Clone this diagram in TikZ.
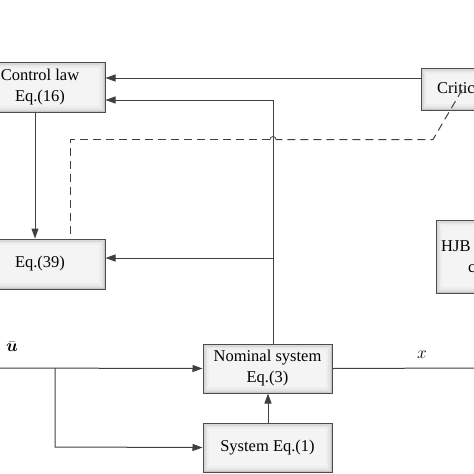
\documentclass[tikz,border=0pt]{standalone}
\usepackage{fontspec}
\usepackage{amsmath}
\setmainfont{Liberation Serif}
\usetikzlibrary{arrows.meta}
\begin{document}
\begin{tikzpicture}[x=1pt,y=-1pt,
  blk/.style={draw=black!70,line width=1pt,fill=gray!9,
    path picture={\foreach \w/\c in {12/13,8/20,5/30,2.5/45}
      \draw[gray!\c,line width=\w pt] (path picture bounding box.south west) rectangle (path picture bounding box.north east);},
    rectangle,inner sep=0pt,align=center,font=\fontsize{16.5}{21}\selectfont},
  ln/.style={draw=black!75,line width=1pt},
  arr/.style={ln,-{Triangle[length=10pt,width=7pt]}},
  dsh/.style={ln,dash pattern=on 8pt off 5pt},
  lbl/.style={font=\fontsize{16.5}{21}\selectfont,inner sep=0pt}]
\useasboundingbox (0,0) rectangle (474,474);
\clip (0,0) rectangle (474,474);
% blocks
\node[blk,minimum width=130pt,minimum height=50pt] (ctrl) at (40,87) {Control law\\Eq.(16)};
\node[blk,minimum width=130pt,minimum height=50pt] (eq39) at (40,264) {Eq.(39)};
\node[blk,minimum width=119pt,minimum height=42pt] (critic) at (480.5,89) {};
\node[lbl,anchor=west] (crittxt) at (437,88) {Critic};
\node[blk,minimum width=124pt,minimum height=73pt] (hjb) at (498,256.5) {};
\node[lbl,anchor=west,align=left] (hjbtxt) at (441,257) {HJB\\\hspace*{27pt}c};
\node[blk,minimum width=129pt,minimum height=49pt] (nom) at (267.5,368.5) {Nominal system\\Eq.(3)};
\node[blk,minimum width=129pt,minimum height=49pt] (sys) at (267.5,447.5) {System Eq.(1)};
% coordinates
\coordinate (j1) at (273,100);
\coordinate (j2) at (273,258);
\coordinate (inl) at (0,368);
\coordinate (br) at (55,368);
\coordinate (brd) at (55,447);
\coordinate (outr) at (474,368);
\coordinate (d1) at (462,90);
\coordinate (d2) at (433,139.5);
\coordinate (d3) at (276,139.5);
\coordinate (d4) at (270,139.5);
\coordinate (d5) at (70,139.5);
% connectors
\draw[arr] (critic.west |- 0,78) -- (ctrl.east |- 0,78);
\draw[ln] (nom.north -| j1) -- (j1);
\draw[arr] (j1) -- (ctrl.east |- j1);
\draw[arr] (j2) -- (eq39.east |- j2);
\draw[arr] (ctrl.south -| 35,0) -- (eq39.north -| 35,0);
\draw[dsh] (d1) -- (d2) -- (d3);
\draw[ln,line width=0.8pt] (d3) arc[start angle=0,end angle=180,radius=3pt];
\draw[dsh] (d4) -- (d5) -- (eq39.north -| d5);
\draw[arr] (inl) -- (nom.west);
\draw[arr] (br) -- (brd) -- (sys.west);
\draw[arr] (sys.north -| 268,0) -- (nom.south -| 268,0);
\draw[ln] (nom.east) -- (outr);
\node[lbl] (xl) at (422,355) {$x$};
\node[lbl] (ul) at (12,347) {$\bar{\boldsymbol{u}}$};
\end{tikzpicture}
\end{document}
